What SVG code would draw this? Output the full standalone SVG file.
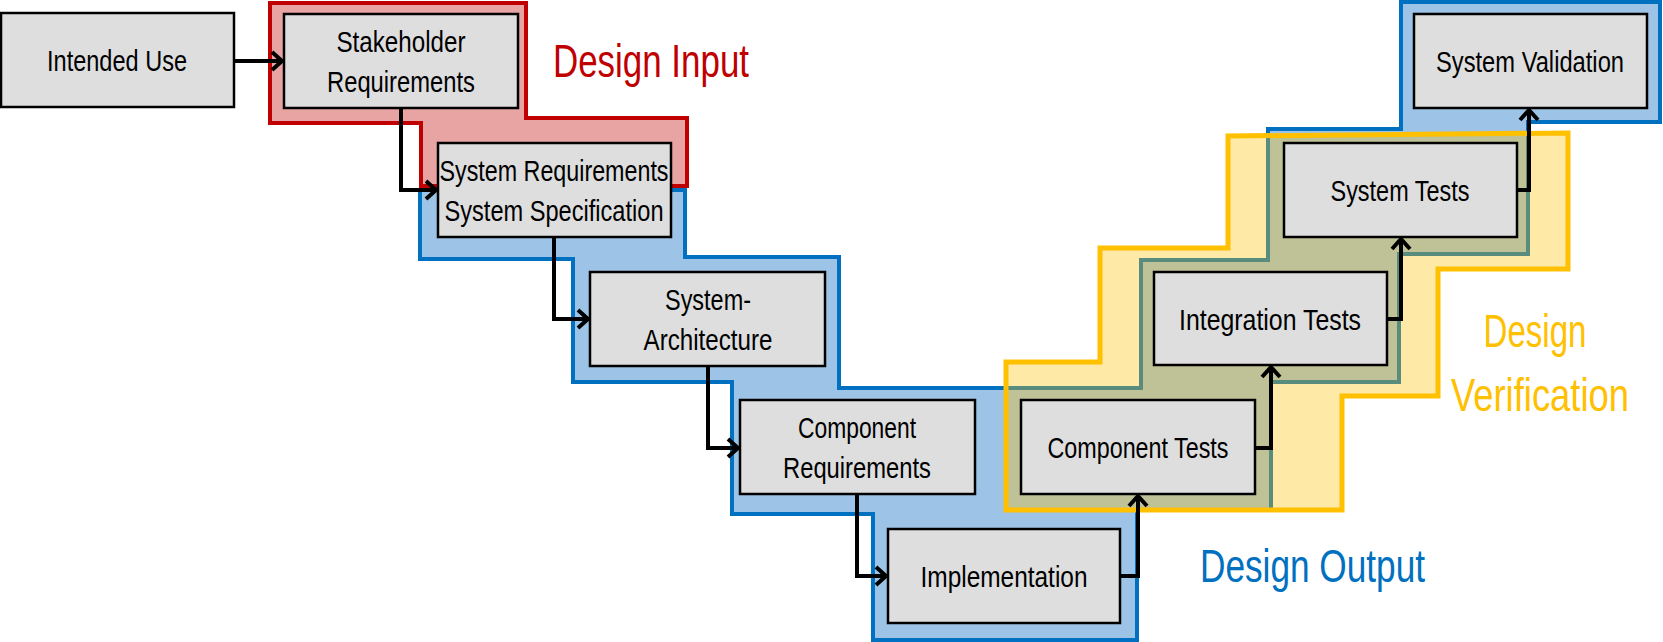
<svg xmlns="http://www.w3.org/2000/svg" width="1663" height="642" viewBox="0 0 1663 642">
<style>
.box{fill:#dedede;stroke:#000;stroke-width:2.5}
.t{font-family:"Liberation Sans",Arial,sans-serif;font-size:30px;fill:#000;text-anchor:middle}
.lab{font-family:"Liberation Sans",Arial,sans-serif;font-size:46px}
.c{fill:none;stroke:#000;stroke-width:4}
</style>
<defs>
<marker id="a" markerUnits="userSpaceOnUse" markerWidth="20" markerHeight="24" refX="15" refY="12" orient="auto">
<path d="M5,3 L15,12 L5,21" fill="none" stroke="#000" stroke-width="4"/>
</marker>
</defs>
<g id="regions">
<polygon points="270,3 526,3 526,118 687,118 687,186 421,186 421,123 270,123" fill="#e8a3a3" stroke="#c00000" stroke-width="4"/>
<polygon points="420,190 685,190 685,257 839,257 839,388 1141,388 1141,260 1268,260 1268,129 1401,129 1401,2 1660,2 1660,122 1528,122 1528,254 1399,254 1399,382 1271,382 1271,510 1137,510 1137,640 873,640 873,514 732,514 732,382 573,382 573,259 420,259" fill="#9dc3e6" stroke="#0070c0" stroke-width="4"/>
<polygon points="1006,362 1100,362 1100,248 1228,248 1228,136 1568,133 1568,269 1438,269 1438,396 1342,396 1342,510 1006,510" fill="#ffc000" fill-opacity="0.35" stroke="#ffc000" stroke-width="5"/>
</g>
<g id="connectors">
<path class="c" d="M234,61 H282" marker-end="url(#a)"/>
<path class="c" d="M401,108 V190 H436" marker-end="url(#a)"/>
<path class="c" d="M554,237 V319 H588" marker-end="url(#a)"/>
<path class="c" d="M708,366 V448 H738" marker-end="url(#a)"/>
<path class="c" d="M857,494 V576 H886" marker-end="url(#a)"/>
<path class="c" d="M1120,576 H1138 V496" marker-end="url(#a)"/>
<path class="c" d="M1255,448 H1271 V367" marker-end="url(#a)"/>
<path class="c" d="M1387,319 H1401 V239" marker-end="url(#a)"/>
<path class="c" d="M1517,190 H1529 V110" marker-end="url(#a)"/>
</g>
<g id="n1"><rect class="box" x="1" y="13" width="233" height="94"/><text class="t" x="117" y="71" textLength="140" lengthAdjust="spacingAndGlyphs">Intended Use</text></g>
<g id="n2"><rect class="box" x="284" y="14" width="234" height="94"/><text class="t" x="401" y="52" textLength="129" lengthAdjust="spacingAndGlyphs">Stakeholder</text><text class="t" x="401" y="92" textLength="148" lengthAdjust="spacingAndGlyphs">Requirements</text></g>
<g id="n3"><rect class="box" x="438" y="143" width="233" height="94"/><text class="t" x="554" y="181" textLength="229" lengthAdjust="spacingAndGlyphs">System Requirements</text><text class="t" x="554" y="221" textLength="219" lengthAdjust="spacingAndGlyphs">System Specification</text></g>
<g id="n4"><rect class="box" x="590" y="272" width="235" height="94"/><text class="t" x="708" y="310" textLength="86" lengthAdjust="spacingAndGlyphs">System-</text><text class="t" x="708" y="350" textLength="129" lengthAdjust="spacingAndGlyphs">Architecture</text></g>
<g id="n5"><rect class="box" x="740" y="400" width="235" height="94"/><text class="t" x="857" y="438" textLength="118" lengthAdjust="spacingAndGlyphs">Component</text><text class="t" x="857" y="478" textLength="148" lengthAdjust="spacingAndGlyphs">Requirements</text></g>
<g id="n6"><rect class="box" x="888" y="529" width="232" height="94"/><text class="t" x="1004" y="587" textLength="167" lengthAdjust="spacingAndGlyphs">Implementation</text></g>
<g id="n7"><rect class="box" x="1021" y="400" width="234" height="94"/><text class="t" x="1138" y="458" textLength="181" lengthAdjust="spacingAndGlyphs">Component Tests</text></g>
<g id="n8"><rect class="box" x="1154" y="272" width="233" height="93"/><text class="t" x="1270" y="330" textLength="182" lengthAdjust="spacingAndGlyphs">Integration Tests</text></g>
<g id="n9"><rect class="box" x="1284" y="143" width="233" height="94"/><text class="t" x="1400" y="201" textLength="139" lengthAdjust="spacingAndGlyphs">System Tests</text></g>
<g id="n10"><rect class="box" x="1414" y="14" width="233" height="94"/><text class="t" x="1530" y="72" textLength="188" lengthAdjust="spacingAndGlyphs">System Validation</text></g>
<g id="labels">
<text class="lab" x="553" y="77" fill="#c00000" textLength="196" lengthAdjust="spacingAndGlyphs">Design Input</text>
<text class="lab" x="1200" y="582" fill="#0070c0" textLength="225" lengthAdjust="spacingAndGlyphs">Design Output</text>
<text class="lab" x="1535" y="347" fill="#ffc000" text-anchor="middle" textLength="103" lengthAdjust="spacingAndGlyphs">Design</text>
<text class="lab" x="1540" y="411" fill="#ffc000" text-anchor="middle" textLength="178" lengthAdjust="spacingAndGlyphs">Verification</text>
</g>
</svg>
